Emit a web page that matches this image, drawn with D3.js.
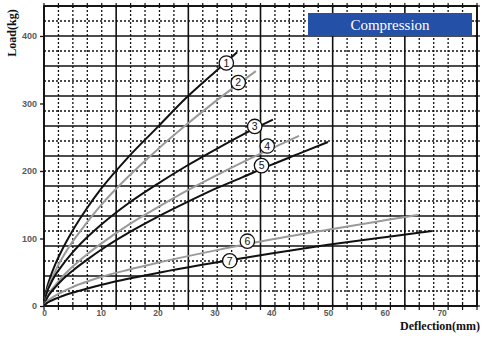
<!DOCTYPE html>
<html><head><meta charset="utf-8">
<script src="https://cdn.jsdelivr.net/npm/d3@7"></script>
<style>html,body{margin:0;padding:0;background:#fff;}svg{display:block;}</style>
</head><body>
<script>
const xTicks = [0,10,20,30,40,50,60,70];
const yTicks = [0,100,200,300,400];
const seriesNames = ["1","2","3","4","5","6","7"];
const seriesColors = ["#111","#9a9a9a","#111","#9a9a9a","#111","#9a9a9a","#111"];
const s1 = [[0,0],[0.5,26],[1,40],[2,62],[3,80],[5,111],[7.5,144],[10,173],[15,222],[20,265],[25,308],[30,346],[34,376]];
const s2 = [[0,0],[0.5,21],[1,33],[2,52],[3,68],[5,95],[7.5,123],[10,149],[15,193],[20,232],[25,268],[30,302],[37.3,348]];
const s3 = [[0,0],[0.5,20],[1,30],[2,46],[3,58],[5,79],[7.5,101],[10,120],[15,153],[20,181],[25,207],[30,231],[35,254],[40.3,276]];
const s4 = [[0,0],[0.5,12],[1,20],[2,31],[3,41],[5,58],[7.5,76],[10,92],[15,121],[20,146],[25,170],[30,192],[35,213],[40,233],[44.9,252]];
const s5 = [[0,0],[0.5,11],[1,18],[2,28],[3,37],[5,52],[7.5,68],[10,83],[15,109],[20,132],[25,153],[30,173],[35,191],[40,209],[45,226],[50,243]];
const s6 = [[0,0],[0.5,6.5],[1,10],[2,15.5],[3,20],[5,28],[7.5,36],[10,43],[15,54],[20,64],[30,82],[40,98.4],[50,113],[60,127],[65.8,135]];
const s7 = [[0,0],[0.5,4.3],[1,6.7],[2,10.7],[3,14],[5,19.6],[7.5,25.6],[10,31],[15,40.6],[20,49],[30,64],[40,77.8],[50,90.6],[60,102],[68.3,111]];
const seriesData = [s1,s2,s3,s4,s5,s6,s7];
const labelPos = [[32.1,360],[34.2,331],[37.1,266],[39.3,237],[38.3,208],[35.8,96],[32.7,67]];

const W = 491, H = 341;
const L = 44, R = 477, T = 6, B = 306;
const svg = d3.select("body").append("svg").attr("width", W).attr("height", H);
const x = d3.scaleLinear().domain([0, 76.23]).range([L, R]);
const y = d3.scaleLinear().domain([0, 444.4]).range([B, T]);

// grid
const gx = d3.scaleLinear().domain([0, 30]).range([L, R]);
const gy = d3.scaleLinear().domain([0, 20]).range([B, T]);
const grid = svg.append("g");
d3.range(0, 31).forEach(i => {
  const major = i % 5 === 0;
  grid.append("line").attr("x1", gx(i)).attr("x2", gx(i)).attr("y1", T).attr("y2", B)
    .attr("stroke", "#111").attr("stroke-width", major ? 1.6 : 1.3)
    .attr("stroke-dasharray", major ? null : "2,2");
  grid.append("line").attr("x1", gx(i)).attr("x2", gx(i)).attr("y1", T - 3).attr("y2", T + 2)
    .attr("stroke", "#111").attr("stroke-width", 1.2);
  grid.append("line").attr("x1", gx(i)).attr("x2", gx(i)).attr("y1", B - 2).attr("y2", B + 4)
    .attr("stroke", "#111").attr("stroke-width", 1.2);
});
d3.range(0, 21).forEach(j => {
  const major = j % 2 === 0;
  grid.append("line").attr("x1", L).attr("x2", R).attr("y1", gy(j)).attr("y2", gy(j))
    .attr("stroke", "#111").attr("stroke-width", major ? 1.6 : 1.3)
    .attr("stroke-dasharray", major ? null : "2,2");
  grid.append("line").attr("x1", R - 2).attr("x2", R + 3).attr("y1", gy(j)).attr("y2", gy(j))
    .attr("stroke", "#111").attr("stroke-width", 1.2);
});
svg.append("rect").attr("x", L).attr("y", T).attr("width", R - L).attr("height", B - T)
  .attr("fill", "none").attr("stroke", "#111").attr("stroke-width", 1.8);

// axes
const xAxis = d3.axisBottom(x).tickValues(xTicks).tickSize(0).tickPadding(4);
svg.append("g").attr("transform", `translate(0,${B})`).call(xAxis)
  .call(g => g.select(".domain").remove())
  .selectAll("text").attr("font-family", "Liberation Sans, Arial, sans-serif")
  .attr("font-size", 8.5).attr("font-weight", "bold").attr("fill", "#5a5a5a");
const yAxis = d3.axisLeft(y).tickValues(yTicks).tickSize(4).tickPadding(3);
svg.append("g").attr("transform", `translate(${L},0)`).call(yAxis)
  .call(g => g.select(".domain").remove())
  .call(g => g.selectAll("line").attr("stroke", "#111").attr("stroke-width", 1.3))
  .selectAll("text").attr("font-family", "Liberation Sans, Arial, sans-serif")
  .attr("font-size", 9).attr("font-weight", "bold").attr("fill", "#5a5a5a");

// curves
const line = d3.line().x(d => x(d[0])).y(d => y(d[1])).curve(d3.curveMonotoneX);
seriesData.forEach((s, i) => {
  svg.append("path").datum(s).attr("d", line).attr("fill", "none")
    .attr("stroke", seriesColors[i]).attr("stroke-width", 2);
});
// labels
labelPos.forEach((p, i) => {
  const g = svg.append("g").attr("transform", `translate(${x(p[0])},${y(p[1])})`);
  g.append("circle").attr("r", 7.2).attr("fill", "#fff").attr("stroke", "#111").attr("stroke-width", 1.3);
  g.append("text").text(seriesNames[i]).attr("text-anchor", "middle").attr("dy", "0.36em")
    .attr("font-family", "Liberation Sans, Arial, sans-serif").attr("font-size", 10.5).attr("fill", "#111");
});

// title box
svg.append("rect").attr("x", 308).attr("y", 13).attr("width", 164).attr("height", 23).attr("fill", "#2450a8");
svg.append("text").text("Compression").attr("x", 390).attr("y", 30).attr("text-anchor", "middle")
  .attr("font-family", "Liberation Serif, Times New Roman, serif").attr("font-size", 15).attr("fill", "#fff");

// axis titles
svg.append("text").text("Load(kg)").attr("transform", "translate(16,33) rotate(-90)")
  .attr("text-anchor", "middle").attr("font-family", "Liberation Serif, Times New Roman, serif")
  .attr("font-size", 12).attr("font-weight", "bold").attr("fill", "#111");
svg.append("text").text("Deflection(mm)").attr("x", 480).attr("y", 330).attr("text-anchor", "end")
  .attr("font-family", "Liberation Serif, Times New Roman, serif")
  .attr("font-size", 12).attr("font-weight", "bold").attr("fill", "#111");
</script>
</body></html>
